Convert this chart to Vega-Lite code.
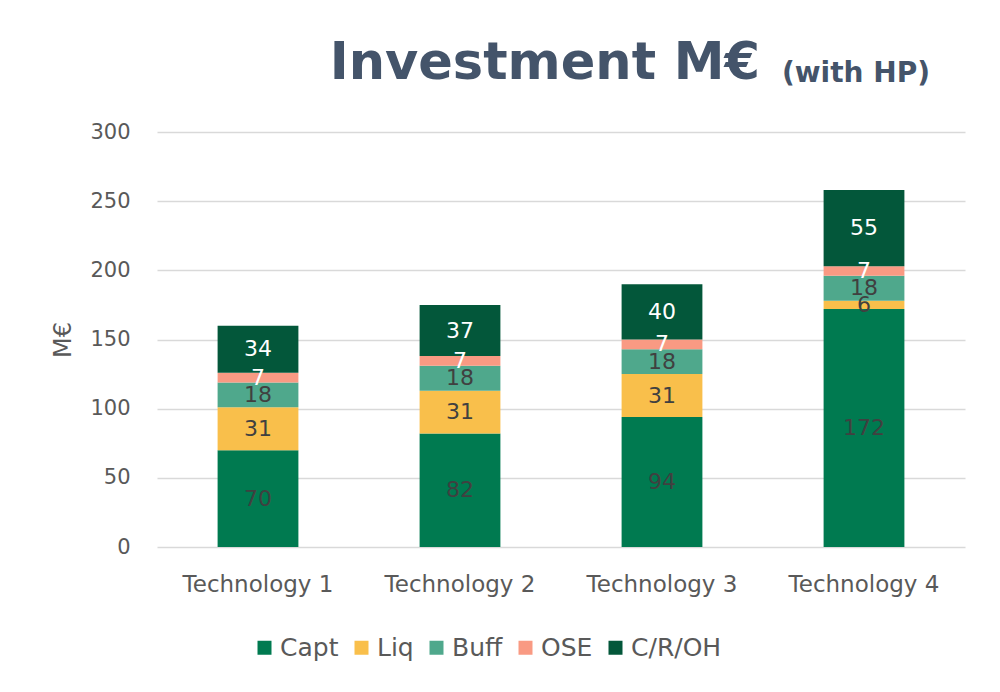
{
  "$schema": "https://vega.github.io/schema/vega-lite/v6.json",
  "autosize": {"type": "none"},
  "width": 808,
  "height": 415,
  "padding": {"left": 157, "top": 132, "right": 35, "bottom": 145},
  "background": "#FFFFFF",
  "config": {"view": {"stroke": null}},
  "title": {
    "text": "Investment M€\u00a0\u00a0\u00a0\u00a0\u00a0\u00a0\u00a0\u00a0\u00a0\u2009\u200b",
    "subtitle": "(with HP)",
    "anchor": "end",
    "frame": "group",
    "dx": -35,
    "offset": 31,
    "font": "DejaVu Sans",
    "fontSize": 51,
    "fontWeight": "bold",
    "color": "#44546A",
    "subtitleFont": "DejaVu Sans",
    "subtitleFontSize": 28,
    "subtitleFontWeight": "bold",
    "subtitleColor": "#44546A",
    "subtitlePadding": -30
  },
  "data": {
    "values": [
      {"tech": "Technology 1", "series": "Capt", "layerRank": 1, "value": 70},
      {"tech": "Technology 1", "series": "Liq", "layerRank": 2, "value": 31},
      {"tech": "Technology 1", "series": "Buff", "layerRank": 3, "value": 18},
      {"tech": "Technology 1", "series": "OSE", "layerRank": 4, "value": 7},
      {"tech": "Technology 1", "series": "C/R/OH", "layerRank": 5, "value": 34},
      {"tech": "Technology 2", "series": "Capt", "layerRank": 1, "value": 82},
      {"tech": "Technology 2", "series": "Liq", "layerRank": 2, "value": 31},
      {"tech": "Technology 2", "series": "Buff", "layerRank": 3, "value": 18},
      {"tech": "Technology 2", "series": "OSE", "layerRank": 4, "value": 7},
      {"tech": "Technology 2", "series": "C/R/OH", "layerRank": 5, "value": 37},
      {"tech": "Technology 3", "series": "Capt", "layerRank": 1, "value": 94},
      {"tech": "Technology 3", "series": "Liq", "layerRank": 2, "value": 31},
      {"tech": "Technology 3", "series": "Buff", "layerRank": 3, "value": 18},
      {"tech": "Technology 3", "series": "OSE", "layerRank": 4, "value": 7},
      {"tech": "Technology 3", "series": "C/R/OH", "layerRank": 5, "value": 40},
      {"tech": "Technology 4", "series": "Capt", "layerRank": 1, "value": 172},
      {"tech": "Technology 4", "series": "Liq", "layerRank": 2, "value": 6},
      {"tech": "Technology 4", "series": "Buff", "layerRank": 3, "value": 18},
      {"tech": "Technology 4", "series": "OSE", "layerRank": 4, "value": 7},
      {"tech": "Technology 4", "series": "C/R/OH", "layerRank": 5, "value": 55}
    ]
  },
  "encoding": {
    "x": {
      "field": "tech",
      "type": "nominal",
      "scale": {"paddingInner": 0.6, "paddingOuter": 0.3},
      "axis": {
        "title": null,
        "labelAngle": 0,
        "labelFont": "DejaVu Sans",
        "labelFontSize": 23,
        "labelColor": "#595959",
        "labelPadding": 26,
        "ticks": false,
        "domain": false,
        "grid": false
      }
    },
    "y": {
      "field": "value",
      "type": "quantitative",
      "stack": "zero",
      "scale": {"domain": [0, 300], "nice": false},
      "axis": {
        "title": "M€",
        "titleFont": "DejaVu Sans",
        "titleFontSize": 24,
        "titleFontWeight": "normal",
        "titleColor": "#595959",
        "titlePadding": 14,
        "values": [0, 50, 100, 150, 200, 250, 300],
        "labelFont": "DejaVu Sans",
        "labelFontSize": 21,
        "labelColor": "#595959",
        "labelPadding": 27,
        "ticks": false,
        "domain": false,
        "grid": true,
        "gridColor": "#D9D9D9",
        "gridWidth": 1.5
      }
    },
    "order": {"field": "layerRank", "type": "quantitative", "sort": "ascending"}
  },
  "layer": [
    {
      "mark": {"type": "bar"},
      "encoding": {
        "color": {
          "field": "series",
          "type": "nominal",
          "sort": ["Capt", "Liq", "Buff", "OSE", "C/R/OH"],
          "scale": {
            "domain": ["Capt", "Liq", "Buff", "OSE", "C/R/OH"],
            "range": ["#007A50", "#F9BF4B", "#4FA88C", "#F99A83", "#03573A"]
          },
          "legend": {
            "title": null,
            "orient": "none",
            "legendX": 95,
            "legendY": 503,
            "direction": "horizontal",
            "columns": 5,
            "columnPadding": 10,
            "symbolType": "square",
            "symbolSize": 196,
            "symbolStrokeWidth": 0,
            "labelFont": "DejaVu Sans",
            "labelFontSize": 25,
            "labelColor": "#595959",
            "labelOffset": 3
          }
        }
      }
    },
    {
      "mark": {"type": "text", "font": "DejaVu Sans", "fontSize": 22, "baseline": "middle"},
      "encoding": {
        "y": {"field": "value", "type": "quantitative", "stack": "zero", "bandPosition": 0.5},
        "text": {"field": "value", "type": "quantitative"},
        "color": {
          "field": "series",
          "type": "nominal",
          "sort": ["Capt", "Liq", "Buff", "OSE", "C/R/OH"],
          "scale": {
            "domain": ["Capt", "Liq", "Buff", "OSE", "C/R/OH"],
            "range": ["#404040", "#404040", "#404040", "#FFFFFF", "#FFFFFF"]
          },
          "legend": null
        }
      }
    }
  ],
  "resolve": {"scale": {"color": "independent"}}
}
